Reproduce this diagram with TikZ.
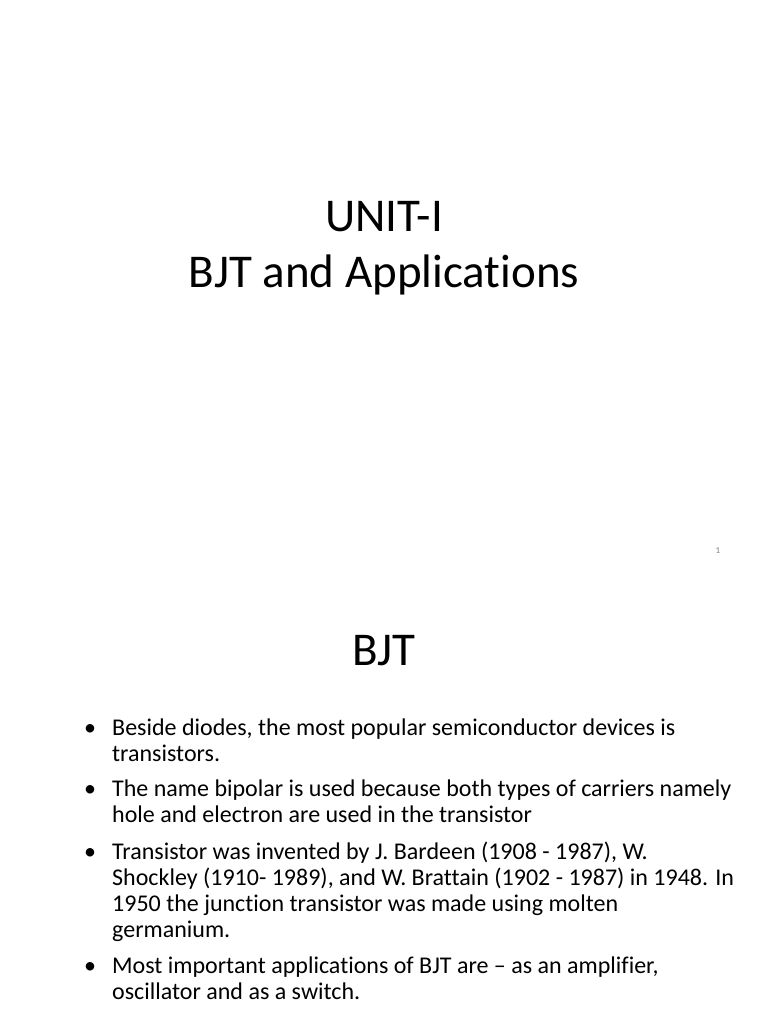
\documentclass[tikz,border=0pt]{standalone}
\usepackage{fontspec}
\setmainfont[Ligatures={NoCommon}]{Carlito}
\begin{document}
\begin{tikzpicture}[x=1pt,y=-1pt,
    titletext/.style={anchor=base, font=\fontsize{47}{56}\selectfont},
    bodytext/.style={anchor=base west, inner sep=0pt,
      font=\fontsize{24}{28}\selectfont},
    bulletmark/.style={anchor=base west, inner sep=0pt,
      font=\fontsize{24}{28}\selectfont}]
\useasboundingbox[fill=white] (0,0) rectangle (768,1024);
% slide 1
\node[titletext] (unit) at (384,232) {UNIT-I};
\node[titletext] (apps) at (384,287) {BJT and Applications};
\node[anchor=base, font=\fontsize{9}{10}\selectfont, text=gray] (pgno) at (718,553) {1};
% slide 2
\node[titletext] (bjt) at (384,665) {BJT};
\foreach \yb in {735,796,859,973}
  \node[bulletmark] (dot\yb) at (84,\yb) {•};
\foreach \yb/\txt in {
    735/{Beside diodes, the most popular semiconductor devices is},
    761/{transistors.},
    796/{The name bipolar is used because both types of carriers namely},
    822/{hole and electron are used in the transistor},
    859/{Transistor was invented by J. Bardeen (1908 - 1987), W.},
    885/{Shockley (1910- 1989), and W. Brattain (1902 - 1987) in 1948. In},
    911/{1950 the junction transistor was made using molten},
    937/{germanium.},
    973/{Most important applications of BJT are -- as an amplifier,},
    999/{oscillator and as a switch.}}
  \node[bodytext] (line\yb) at (112,\yb) {\txt};
\end{tikzpicture}
\end{document}
